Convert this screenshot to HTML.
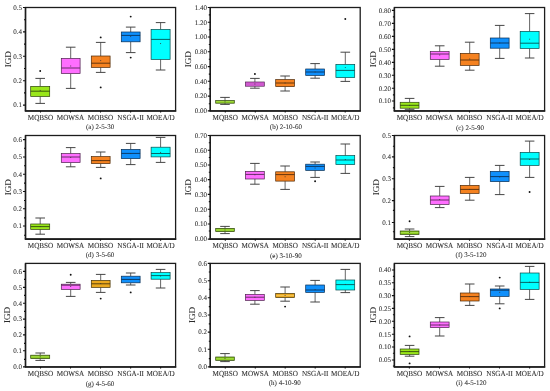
<!DOCTYPE html>
<html><head><meta charset="utf-8"><title>IGD boxplots</title>
<style>html,body{margin:0;padding:0;background:#fff}svg{display:block}</style></head>
<body>
<svg width="550" height="391" viewBox="0 0 550 391" font-family="'Liberation Serif', serif" fill="#2b2b2b">
<style>text{stroke:#2b2b2b;stroke-width:0.06px;text-rendering:geometricPrecision}</style>
<rect x="0" y="0" width="550" height="391" fill="#fff"/>
<g stroke="#484848" stroke-width="0.85" fill="none">
<path d="M40.2 78.4V86.4M40.2 96.4V103.4" stroke="#333" stroke-width="0.75"/>
<path d="M35.4 78.4H45.0M35.4 103.4H45.0" stroke="#3c3c3c" stroke-width="0.95"/>
<rect x="30.7" y="86.4" width="19.0" height="10.0" fill="#99e61a" stroke="#2c420a" stroke-width="0.7"/>
<path d="M30.7 91.2H49.7" stroke="#2c420a" stroke-width="0.85"/>
</g>
<rect x="39.75" y="89.95" width="0.9" height="0.9" fill="#383838"/>
<circle cx="40.2" cy="71.0" r="0.95" fill="#111"/>
<g stroke="#484848" stroke-width="0.85" fill="none">
<path d="M70.7 47.2V58.4M70.7 73.6V88.4" stroke="#333" stroke-width="0.75"/>
<path d="M65.9 47.2H75.5M65.9 88.4H75.5" stroke="#3c3c3c" stroke-width="0.95"/>
<rect x="61.3" y="58.4" width="18.8" height="15.2" fill="#ff6eff" stroke="#4c224c" stroke-width="0.7"/>
<path d="M61.3 68.0H80.1" stroke="#4c224c" stroke-width="0.85"/>
</g>
<rect x="70.25" y="65.55" width="0.9" height="0.9" fill="#383838"/>
<g stroke="#484848" stroke-width="0.85" fill="none">
<path d="M100.7 42.4V56.0M100.7 67.4V72.4" stroke="#333" stroke-width="0.75"/>
<path d="M95.9 42.4H105.5M95.9 72.4H105.5" stroke="#3c3c3c" stroke-width="0.95"/>
<rect x="91.3" y="56.0" width="18.8" height="11.4" fill="#f58220" stroke="#4c2808" stroke-width="0.7"/>
<path d="M91.3 63.2H110.1" stroke="#4c2808" stroke-width="0.85"/>
</g>
<rect x="100.25" y="60.15" width="0.9" height="0.9" fill="#383838"/>
<circle cx="100.7" cy="37.4" r="0.95" fill="#111"/>
<circle cx="100.7" cy="87.4" r="0.95" fill="#111"/>
<g stroke="#484848" stroke-width="0.85" fill="none">
<path d="M130.7 27.1V32.0M130.7 41.8V52.6" stroke="#333" stroke-width="0.75"/>
<path d="M125.9 27.1H135.5M125.9 52.6H135.5" stroke="#3c3c3c" stroke-width="0.95"/>
<rect x="121.3" y="32.0" width="18.8" height="9.8" fill="#1090fc" stroke="#082c50" stroke-width="0.7"/>
<path d="M121.3 35.4H140.1" stroke="#082c50" stroke-width="0.85"/>
</g>
<rect x="130.25" y="36.15" width="0.9" height="0.9" fill="#383838"/>
<circle cx="130.7" cy="16.6" r="0.95" fill="#111"/>
<circle cx="130.7" cy="57.6" r="0.95" fill="#111"/>
<g stroke="#484848" stroke-width="0.85" fill="none">
<path d="M160.6 22.6V29.4M160.6 59.4V70.0" stroke="#333" stroke-width="0.75"/>
<path d="M155.8 22.6H165.4M155.8 70.0H165.4" stroke="#3c3c3c" stroke-width="0.95"/>
<rect x="151.1" y="29.4" width="19.0" height="30.0" fill="#00ffff" stroke="#064a4a" stroke-width="0.7"/>
<path d="M151.1 39.4H170.1" stroke="#064a4a" stroke-width="0.85"/>
</g>
<rect x="160.15" y="43.15" width="0.9" height="0.9" fill="#383838"/>
<rect x="25.5" y="7.5" width="150.1" height="103.4" fill="none" stroke="#1c1c1c" stroke-width="1.3"/>
<path d="M25.5 7.5V110.9" stroke="#1c1c1c" stroke-width="1.45" fill="none"/>
<path d="M24.8 111.0H176.2" stroke="#1c1c1c" stroke-width="1.7" fill="none"/>
<path d="M23.0 7.5H25.5M23.0 31.9H25.5M23.0 56.3H25.5M23.0 80.7H25.5M23.0 105.1H25.5M24.0 19.7H25.5M24.0 44.1H25.5M24.0 68.5H25.5M24.0 92.9H25.5M40.5 110.9V112.5M70.5 110.9V112.5M100.5 110.9V112.5M130.6 110.9V112.5M160.6 110.9V112.5" stroke="#111" stroke-width="1.1" fill="none"/>
<g font-size="7.0" text-anchor="end">
<text transform="translate(22.1 9.8)">0.5</text>
<text transform="translate(22.1 34.2)">0.4</text>
<text transform="translate(22.1 58.6)">0.3</text>
<text transform="translate(22.1 83.0)">0.2</text>
<text transform="translate(22.1 107.4)">0.1</text>
</g>
<g font-size="7.15" text-anchor="middle">
<text transform="translate(40.5 120.1) scale(1 1.08)">MQBSO</text>
<text transform="translate(70.5 120.1) scale(1 1.08)">MOWSA</text>
<text transform="translate(100.5 120.1) scale(1 1.08)">MOBSO</text>
<text transform="translate(130.6 120.1) scale(1 1.08)">NSGA-II</text>
<text transform="translate(160.6 120.1) scale(1 1.08)">MOEA/D</text>
<text font-size="7" transform="translate(100.1 129.1)">(a) 2-5-30</text>
</g>
<text font-size="9" text-anchor="middle" transform="translate(10.7 59.2) rotate(-90)">IGD</text>
<g stroke="#484848" stroke-width="0.85" fill="none">
<path d="M225.0 97.4V100.6M225.0 103.2V104.4" stroke="#333" stroke-width="0.75"/>
<path d="M220.2 97.4H229.8M220.2 104.4H229.8" stroke="#3c3c3c" stroke-width="0.95"/>
<rect x="215.7" y="100.6" width="18.6" height="2.6" fill="#85c817" stroke="#2c420a" stroke-width="0.7"/>
<path d="M216.2 101.8H233.8" stroke="#c8f27a" stroke-width="0.55"/>
</g>
<rect x="224.55" y="101.35" width="0.9" height="0.9" fill="#383838"/>
<g stroke="#484848" stroke-width="0.85" fill="none">
<path d="M254.9 78.4V82.0M254.9 86.2V88.2" stroke="#333" stroke-width="0.75"/>
<path d="M250.1 78.4H259.7M250.1 88.2H259.7" stroke="#3c3c3c" stroke-width="0.95"/>
<rect x="245.5" y="82.0" width="18.8" height="4.2" fill="#df60df" stroke="#4c224c" stroke-width="0.7"/>
<path d="M245.5 84.0H264.3" stroke="#9d449d" stroke-width="0.5"/>
</g>
<rect x="254.45" y="83.55" width="0.9" height="0.9" fill="#383838"/>
<circle cx="254.9" cy="74.0" r="0.95" fill="#111"/>
<g stroke="#484848" stroke-width="0.85" fill="none">
<path d="M285.1 76.0V79.6M285.1 86.6V91.0" stroke="#333" stroke-width="0.75"/>
<path d="M280.3 76.0H289.9M280.3 91.0H289.9" stroke="#3c3c3c" stroke-width="0.95"/>
<rect x="275.7" y="79.6" width="18.8" height="7.0" fill="#f58220" stroke="#4c2808" stroke-width="0.7"/>
<path d="M275.7 83.0H294.5" stroke="#4c2808" stroke-width="0.85"/>
</g>
<rect x="284.65" y="82.55" width="0.9" height="0.9" fill="#383838"/>
<g stroke="#484848" stroke-width="0.85" fill="none">
<path d="M315.1 63.6V69.0M315.1 75.4V78.2" stroke="#333" stroke-width="0.75"/>
<path d="M310.3 63.6H319.9M310.3 78.2H319.9" stroke="#3c3c3c" stroke-width="0.95"/>
<rect x="305.7" y="69.0" width="18.8" height="6.4" fill="#1090fc" stroke="#082c50" stroke-width="0.7"/>
<path d="M305.7 72.0H324.5" stroke="#082c50" stroke-width="0.85"/>
</g>
<rect x="314.65" y="71.55" width="0.9" height="0.9" fill="#383838"/>
<g stroke="#484848" stroke-width="0.85" fill="none">
<path d="M345.3 52.2V64.4M345.3 77.6V81.4" stroke="#333" stroke-width="0.75"/>
<path d="M340.5 52.2H350.1M340.5 81.4H350.1" stroke="#3c3c3c" stroke-width="0.95"/>
<rect x="335.9" y="64.4" width="18.8" height="13.2" fill="#00ffff" stroke="#064a4a" stroke-width="0.7"/>
<path d="M335.9 70.4H354.7" stroke="#064a4a" stroke-width="0.85"/>
</g>
<rect x="344.85" y="67.15" width="0.9" height="0.9" fill="#383838"/>
<circle cx="345.3" cy="19.0" r="0.95" fill="#111"/>
<rect x="210.3" y="7.5" width="149.9" height="103.4" fill="none" stroke="#1c1c1c" stroke-width="1.3"/>
<path d="M210.3 7.5V110.9" stroke="#1c1c1c" stroke-width="1.45" fill="none"/>
<path d="M209.6 111.0H360.8" stroke="#1c1c1c" stroke-width="1.7" fill="none"/>
<path d="M207.8 7.5H210.3M207.8 22.3H210.3M207.8 37.0H210.3M207.8 51.8H210.3M207.8 66.6H210.3M207.8 81.3H210.3M207.8 96.1H210.3M207.8 110.9H210.3M208.8 14.9H210.3M208.8 29.7H210.3M208.8 44.5H210.3M208.8 59.3H210.3M208.8 74.1H210.3M208.8 88.9H210.3M208.8 103.7H210.3M225.3 110.9V112.5M255.3 110.9V112.5M285.2 110.9V112.5M315.2 110.9V112.5M345.2 110.9V112.5" stroke="#111" stroke-width="1.1" fill="none"/>
<g font-size="7.0" text-anchor="end">
<text transform="translate(206.9 9.8)">1.40</text>
<text transform="translate(206.9 24.6)">1.20</text>
<text transform="translate(206.9 39.3)">1.00</text>
<text transform="translate(206.9 54.1)">0.80</text>
<text transform="translate(206.9 68.9)">0.60</text>
<text transform="translate(206.9 83.6)">0.40</text>
<text transform="translate(206.9 98.4)">0.20</text>
<text transform="translate(206.9 113.2)">0.00</text>
</g>
<g font-size="7.15" text-anchor="middle">
<text transform="translate(225.3 120.1) scale(1 1.08)">MQBSO</text>
<text transform="translate(255.3 120.1) scale(1 1.08)">MOWSA</text>
<text transform="translate(285.2 120.1) scale(1 1.08)">MOBSO</text>
<text transform="translate(315.2 120.1) scale(1 1.08)">NSGA-II</text>
<text transform="translate(345.2 120.1) scale(1 1.08)">MOEA/D</text>
<text font-size="7" transform="translate(285.9 129.1)">(b) 2-10-60</text>
</g>
<text font-size="9" text-anchor="middle" transform="translate(191.1 59.2) rotate(-90)">IGD</text>
<g stroke="#484848" stroke-width="0.85" fill="none">
<path d="M409.6 98.4V102.3M409.6 108.2V109.3" stroke="#333" stroke-width="0.75"/>
<path d="M404.8 98.4H414.4M404.8 109.3H414.4" stroke="#3c3c3c" stroke-width="0.95"/>
<rect x="400.2" y="102.3" width="18.8" height="5.9" fill="#99e61a" stroke="#2c420a" stroke-width="0.7"/>
<path d="M400.2 105.3H419.0" stroke="#2c420a" stroke-width="0.85"/>
</g>
<rect x="409.15" y="104.85" width="0.9" height="0.9" fill="#383838"/>
<g stroke="#484848" stroke-width="0.85" fill="none">
<path d="M439.7 45.8V51.6M439.7 59.4V66.2" stroke="#333" stroke-width="0.75"/>
<path d="M434.9 45.8H444.5M434.9 66.2H444.5" stroke="#3c3c3c" stroke-width="0.95"/>
<rect x="430.3" y="51.6" width="18.8" height="7.8" fill="#ff6eff" stroke="#4c224c" stroke-width="0.7"/>
<path d="M430.3 54.0H449.1" stroke="#4c224c" stroke-width="0.85"/>
</g>
<rect x="439.25" y="54.55" width="0.9" height="0.9" fill="#383838"/>
<g stroke="#484848" stroke-width="0.85" fill="none">
<path d="M469.7 42.2V53.4M469.7 65.4V70.2" stroke="#333" stroke-width="0.75"/>
<path d="M464.9 42.2H474.5M464.9 70.2H474.5" stroke="#3c3c3c" stroke-width="0.95"/>
<rect x="460.3" y="53.4" width="18.8" height="12.0" fill="#f58220" stroke="#4c2808" stroke-width="0.7"/>
<path d="M460.3 60.0H479.1" stroke="#4c2808" stroke-width="0.85"/>
</g>
<rect x="469.25" y="58.55" width="0.9" height="0.9" fill="#383838"/>
<g stroke="#484848" stroke-width="0.85" fill="none">
<path d="M499.7 25.4V38.0M499.7 48.2V58.4" stroke="#333" stroke-width="0.75"/>
<path d="M494.9 25.4H504.5M494.9 58.4H504.5" stroke="#3c3c3c" stroke-width="0.95"/>
<rect x="490.3" y="38.0" width="18.8" height="10.2" fill="#1090fc" stroke="#082c50" stroke-width="0.7"/>
<path d="M490.3 43.0H509.1" stroke="#082c50" stroke-width="0.85"/>
</g>
<rect x="499.25" y="42.55" width="0.9" height="0.9" fill="#383838"/>
<g stroke="#484848" stroke-width="0.85" fill="none">
<path d="M529.6 13.6V31.4M529.6 48.4V58.0" stroke="#333" stroke-width="0.75"/>
<path d="M524.9 13.6H534.4M524.9 58.0H534.4" stroke="#3c3c3c" stroke-width="0.95"/>
<rect x="520.2" y="31.4" width="18.9" height="17.0" fill="#00ffff" stroke="#064a4a" stroke-width="0.7"/>
<path d="M520.2 43.2H539.1" stroke="#064a4a" stroke-width="0.85"/>
</g>
<rect x="529.20" y="38.75" width="0.9" height="0.9" fill="#383838"/>
<rect x="394.4" y="7.5" width="150.2" height="103.4" fill="none" stroke="#1c1c1c" stroke-width="1.3"/>
<path d="M394.4 7.5V110.9" stroke="#1c1c1c" stroke-width="1.45" fill="none"/>
<path d="M393.7 111.0H545.2" stroke="#1c1c1c" stroke-width="1.7" fill="none"/>
<path d="M391.9 10.4H394.4M391.9 23.4H394.4M391.9 36.4H394.4M391.9 49.4H394.4M391.9 62.4H394.4M391.9 75.2H394.4M391.9 88.2H394.4M391.9 101.0H394.4M392.9 16.9H394.4M392.9 29.9H394.4M392.9 42.9H394.4M392.9 55.9H394.4M392.9 68.9H394.4M392.9 81.9H394.4M392.9 94.9H394.4M392.9 107.9H394.4M409.4 110.9V112.5M439.5 110.9V112.5M469.5 110.9V112.5M499.5 110.9V112.5M529.6 110.9V112.5" stroke="#111" stroke-width="1.1" fill="none"/>
<g font-size="7.0" text-anchor="end">
<text transform="translate(391.0 12.7)">0.80</text>
<text transform="translate(391.0 25.7)">0.70</text>
<text transform="translate(391.0 38.7)">0.60</text>
<text transform="translate(391.0 51.7)">0.50</text>
<text transform="translate(391.0 64.7)">0.40</text>
<text transform="translate(391.0 77.5)">0.30</text>
<text transform="translate(391.0 90.5)">0.20</text>
<text transform="translate(391.0 103.3)">0.10</text>
</g>
<g font-size="7.15" text-anchor="middle">
<text transform="translate(409.4 120.1) scale(1 1.08)">MQBSO</text>
<text transform="translate(439.5 120.1) scale(1 1.08)">MOWSA</text>
<text transform="translate(469.5 120.1) scale(1 1.08)">MOBSO</text>
<text transform="translate(499.5 120.1) scale(1 1.08)">NSGA-II</text>
<text transform="translate(529.6 120.1) scale(1 1.08)">MOEA/D</text>
<text font-size="7" transform="translate(470.0 130.1)">(c) 2-5-90</text>
</g>
<text font-size="9" text-anchor="middle" transform="translate(375.9 59.2) rotate(-90)">IGD</text>
<g stroke="#484848" stroke-width="0.85" fill="none">
<path d="M40.2 218.0V224.0M40.2 229.4V234.2" stroke="#333" stroke-width="0.75"/>
<path d="M35.4 218.0H45.0M35.4 234.2H45.0" stroke="#3c3c3c" stroke-width="0.95"/>
<rect x="30.7" y="224.0" width="19.0" height="5.4" fill="#99e61a" stroke="#2c420a" stroke-width="0.7"/>
<path d="M30.7 226.6H49.7" stroke="#2c420a" stroke-width="0.85"/>
</g>
<rect x="39.75" y="226.15" width="0.9" height="0.9" fill="#383838"/>
<g stroke="#484848" stroke-width="0.85" fill="none">
<path d="M70.7 147.6V153.6M70.7 162.6V166.8" stroke="#333" stroke-width="0.75"/>
<path d="M65.9 147.6H75.5M65.9 166.8H75.5" stroke="#3c3c3c" stroke-width="0.95"/>
<rect x="61.3" y="153.6" width="18.8" height="9.0" fill="#ff6eff" stroke="#4c224c" stroke-width="0.7"/>
<path d="M61.3 157.0H80.1" stroke="#4c224c" stroke-width="0.85"/>
</g>
<rect x="70.25" y="156.95" width="0.9" height="0.9" fill="#383838"/>
<g stroke="#484848" stroke-width="0.85" fill="none">
<path d="M100.7 152.0V156.6M100.7 163.6V167.4" stroke="#333" stroke-width="0.75"/>
<path d="M95.9 152.0H105.5M95.9 167.4H105.5" stroke="#3c3c3c" stroke-width="0.95"/>
<rect x="91.3" y="156.6" width="18.8" height="7.0" fill="#f58220" stroke="#4c2808" stroke-width="0.7"/>
<path d="M91.3 160.6H110.1" stroke="#4c2808" stroke-width="0.85"/>
</g>
<rect x="100.25" y="159.95" width="0.9" height="0.9" fill="#383838"/>
<circle cx="100.7" cy="178.4" r="0.95" fill="#111"/>
<g stroke="#484848" stroke-width="0.85" fill="none">
<path d="M130.7 143.4V149.4M130.7 158.6V164.6" stroke="#333" stroke-width="0.75"/>
<path d="M125.9 143.4H135.5M125.9 164.6H135.5" stroke="#3c3c3c" stroke-width="0.95"/>
<rect x="121.3" y="149.4" width="18.8" height="9.2" fill="#1090fc" stroke="#082c50" stroke-width="0.7"/>
<path d="M121.3 153.4H140.1" stroke="#082c50" stroke-width="0.85"/>
</g>
<rect x="130.25" y="153.15" width="0.9" height="0.9" fill="#383838"/>
<g stroke="#484848" stroke-width="0.85" fill="none">
<path d="M160.6 137.4V147.2M160.6 156.9V162.4" stroke="#333" stroke-width="0.75"/>
<path d="M155.8 137.4H165.4M155.8 162.4H165.4" stroke="#3c3c3c" stroke-width="0.95"/>
<rect x="151.1" y="147.2" width="19.0" height="9.7" fill="#00ffff" stroke="#064a4a" stroke-width="0.7"/>
<path d="M151.1 153.5H170.1" stroke="#064a4a" stroke-width="0.85"/>
</g>
<rect x="160.15" y="151.95" width="0.9" height="0.9" fill="#383838"/>
<rect x="25.5" y="135.5" width="150.1" height="103.6" fill="none" stroke="#1c1c1c" stroke-width="1.3"/>
<path d="M25.5 135.5V239.1" stroke="#1c1c1c" stroke-width="1.45" fill="none"/>
<path d="M24.8 239.2H176.2" stroke="#1c1c1c" stroke-width="1.7" fill="none"/>
<path d="M23.0 139.6H25.5M23.0 157.0H25.5M23.0 174.2H25.5M23.0 191.5H25.5M23.0 208.8H25.5M23.0 226.0H25.5M24.0 148.3H25.5M24.0 165.7H25.5M24.0 183.1H25.5M24.0 200.5H25.5M24.0 217.9H25.5M24.0 235.3H25.5M40.5 239.1V240.7M70.5 239.1V240.7M100.5 239.1V240.7M130.6 239.1V240.7M160.6 239.1V240.7" stroke="#111" stroke-width="1.1" fill="none"/>
<g font-size="7.0" text-anchor="end">
<text transform="translate(22.1 141.9)">0.6</text>
<text transform="translate(22.1 159.3)">0.5</text>
<text transform="translate(22.1 176.5)">0.4</text>
<text transform="translate(22.1 193.8)">0.3</text>
<text transform="translate(22.1 211.1)">0.2</text>
<text transform="translate(22.1 228.3)">0.1</text>
</g>
<g font-size="7.15" text-anchor="middle">
<text transform="translate(40.5 248.3) scale(1 1.08)">MQBSO</text>
<text transform="translate(70.5 248.3) scale(1 1.08)">MOWSA</text>
<text transform="translate(100.5 248.3) scale(1 1.08)">MOBSO</text>
<text transform="translate(130.6 248.3) scale(1 1.08)">NSGA-II</text>
<text transform="translate(160.6 248.3) scale(1 1.08)">MOEA/D</text>
<text font-size="7" transform="translate(100.0 257.3)">(d) 3-5-60</text>
</g>
<text font-size="9" text-anchor="middle" transform="translate(10.7 187.3) rotate(-90)">IGD</text>
<g stroke="#484848" stroke-width="0.85" fill="none">
<path d="M225.0 226.4V228.4M225.0 231.6V233.6" stroke="#333" stroke-width="0.75"/>
<path d="M220.2 226.4H229.8M220.2 233.6H229.8" stroke="#3c3c3c" stroke-width="0.95"/>
<rect x="215.7" y="228.4" width="18.6" height="3.2" fill="#85c817" stroke="#2c420a" stroke-width="0.7"/>
<path d="M216.2 230.0H233.8" stroke="#c8f27a" stroke-width="0.55"/>
</g>
<rect x="224.55" y="229.55" width="0.9" height="0.9" fill="#383838"/>
<g stroke="#484848" stroke-width="0.85" fill="none">
<path d="M254.9 163.4V171.4M254.9 179.0V184.2" stroke="#333" stroke-width="0.75"/>
<path d="M250.1 163.4H259.7M250.1 184.2H259.7" stroke="#3c3c3c" stroke-width="0.95"/>
<rect x="245.5" y="171.4" width="18.8" height="7.6" fill="#ff6eff" stroke="#4c224c" stroke-width="0.7"/>
<path d="M245.5 174.4H264.3" stroke="#4c224c" stroke-width="0.85"/>
</g>
<rect x="254.45" y="174.35" width="0.9" height="0.9" fill="#383838"/>
<g stroke="#484848" stroke-width="0.85" fill="none">
<path d="M285.1 166.0V171.8M285.1 181.1V189.4" stroke="#333" stroke-width="0.75"/>
<path d="M280.3 166.0H289.9M280.3 189.4H289.9" stroke="#3c3c3c" stroke-width="0.95"/>
<rect x="275.7" y="171.8" width="18.8" height="9.3" fill="#f58220" stroke="#4c2808" stroke-width="0.7"/>
<path d="M275.7 174.6H294.5" stroke="#4c2808" stroke-width="0.85"/>
</g>
<rect x="284.65" y="176.35" width="0.9" height="0.9" fill="#383838"/>
<g stroke="#484848" stroke-width="0.85" fill="none">
<path d="M315.1 162.0V164.2M315.1 170.4V177.4" stroke="#333" stroke-width="0.75"/>
<path d="M310.3 162.0H319.9M310.3 177.4H319.9" stroke="#3c3c3c" stroke-width="0.95"/>
<rect x="305.7" y="164.2" width="18.8" height="6.2" fill="#1090fc" stroke="#082c50" stroke-width="0.7"/>
<path d="M305.7 166.4H324.5" stroke="#082c50" stroke-width="0.85"/>
</g>
<rect x="314.65" y="167.55" width="0.9" height="0.9" fill="#383838"/>
<circle cx="315.1" cy="181.2" r="0.95" fill="#111"/>
<g stroke="#484848" stroke-width="0.85" fill="none">
<path d="M345.3 144.0V155.6M345.3 164.6V173.4" stroke="#333" stroke-width="0.75"/>
<path d="M340.5 144.0H350.1M340.5 173.4H350.1" stroke="#3c3c3c" stroke-width="0.95"/>
<rect x="335.9" y="155.6" width="18.8" height="9.0" fill="#00ffff" stroke="#064a4a" stroke-width="0.7"/>
<path d="M335.9 160.0H354.7" stroke="#064a4a" stroke-width="0.85"/>
</g>
<rect x="344.85" y="159.15" width="0.9" height="0.9" fill="#383838"/>
<rect x="210.3" y="135.5" width="149.9" height="103.6" fill="none" stroke="#1c1c1c" stroke-width="1.3"/>
<path d="M210.3 135.5V239.1" stroke="#1c1c1c" stroke-width="1.45" fill="none"/>
<path d="M209.6 239.2H360.8" stroke="#1c1c1c" stroke-width="1.7" fill="none"/>
<path d="M207.8 135.5H210.3M207.8 150.2H210.3M207.8 165.0H210.3M207.8 179.6H210.3M207.8 194.4H210.3M207.8 209.2H210.3M207.8 224.0H210.3M207.8 239.1H210.3M208.8 142.8H210.3M208.8 157.5H210.3M208.8 172.2H210.3M208.8 186.9H210.3M208.8 201.6H210.3M208.8 216.3H210.3M208.8 231.0H210.3M225.3 239.1V240.7M255.3 239.1V240.7M285.2 239.1V240.7M315.2 239.1V240.7M345.2 239.1V240.7" stroke="#111" stroke-width="1.1" fill="none"/>
<g font-size="7.0" text-anchor="end">
<text transform="translate(206.9 137.8)">0.70</text>
<text transform="translate(206.9 152.5)">0.60</text>
<text transform="translate(206.9 167.3)">0.50</text>
<text transform="translate(206.9 181.9)">0.40</text>
<text transform="translate(206.9 196.7)">0.30</text>
<text transform="translate(206.9 211.5)">0.20</text>
<text transform="translate(206.9 226.3)">0.10</text>
<text transform="translate(206.9 241.4)">0.00</text>
</g>
<g font-size="7.15" text-anchor="middle">
<text transform="translate(225.3 248.3) scale(1 1.08)">MQBSO</text>
<text transform="translate(255.3 248.3) scale(1 1.08)">MOWSA</text>
<text transform="translate(285.2 248.3) scale(1 1.08)">MOBSO</text>
<text transform="translate(315.2 248.3) scale(1 1.08)">NSGA-II</text>
<text transform="translate(345.2 248.3) scale(1 1.08)">MOEA/D</text>
<text font-size="7" transform="translate(285.8 257.6)">(e) 3-10-90</text>
</g>
<text font-size="9" text-anchor="middle" transform="translate(190.9 187.3) rotate(-90)">IGD</text>
<g stroke="#484848" stroke-width="0.85" fill="none">
<path d="M409.6 229.0V231.0M409.6 234.4V236.6" stroke="#333" stroke-width="0.75"/>
<path d="M404.8 229.0H414.4M404.8 236.6H414.4" stroke="#3c3c3c" stroke-width="0.95"/>
<rect x="400.2" y="231.0" width="18.8" height="3.4" fill="#85c817" stroke="#2c420a" stroke-width="0.7"/>
<path d="M400.7 232.6H418.5" stroke="#c8f27a" stroke-width="0.55"/>
</g>
<rect x="409.15" y="231.95" width="0.9" height="0.9" fill="#383838"/>
<circle cx="409.6" cy="221.2" r="0.95" fill="#111"/>
<g stroke="#484848" stroke-width="0.85" fill="none">
<path d="M439.7 186.4V196.0M439.7 204.4V207.6" stroke="#333" stroke-width="0.75"/>
<path d="M434.9 186.4H444.5M434.9 207.6H444.5" stroke="#3c3c3c" stroke-width="0.95"/>
<rect x="430.3" y="196.0" width="18.8" height="8.4" fill="#ff6eff" stroke="#4c224c" stroke-width="0.7"/>
<path d="M430.3 200.0H449.1" stroke="#4c224c" stroke-width="0.85"/>
</g>
<rect x="439.25" y="199.15" width="0.9" height="0.9" fill="#383838"/>
<g stroke="#484848" stroke-width="0.85" fill="none">
<path d="M469.7 177.4V185.4M469.7 193.4V200.2" stroke="#333" stroke-width="0.75"/>
<path d="M464.9 177.4H474.5M464.9 200.2H474.5" stroke="#3c3c3c" stroke-width="0.95"/>
<rect x="460.3" y="185.4" width="18.8" height="8.0" fill="#f58220" stroke="#4c2808" stroke-width="0.7"/>
<path d="M460.3 189.4H479.1" stroke="#4c2808" stroke-width="0.85"/>
</g>
<rect x="469.25" y="188.95" width="0.9" height="0.9" fill="#383838"/>
<g stroke="#484848" stroke-width="0.85" fill="none">
<path d="M499.7 165.4V171.4M499.7 181.6V194.6" stroke="#333" stroke-width="0.75"/>
<path d="M494.9 165.4H504.5M494.9 194.6H504.5" stroke="#3c3c3c" stroke-width="0.95"/>
<rect x="490.3" y="171.4" width="18.8" height="10.2" fill="#1090fc" stroke="#082c50" stroke-width="0.7"/>
<path d="M490.3 176.6H509.1" stroke="#082c50" stroke-width="0.85"/>
</g>
<rect x="499.25" y="176.55" width="0.9" height="0.9" fill="#383838"/>
<g stroke="#484848" stroke-width="0.85" fill="none">
<path d="M529.6 141.1V152.4M529.6 165.4V177.4" stroke="#333" stroke-width="0.75"/>
<path d="M524.9 141.1H534.4M524.9 177.4H534.4" stroke="#3c3c3c" stroke-width="0.95"/>
<rect x="520.2" y="152.4" width="18.9" height="13.0" fill="#00ffff" stroke="#064a4a" stroke-width="0.7"/>
<path d="M520.2 159.0H539.1" stroke="#064a4a" stroke-width="0.85"/>
</g>
<rect x="529.20" y="158.95" width="0.9" height="0.9" fill="#383838"/>
<circle cx="529.6" cy="192.0" r="0.95" fill="#111"/>
<rect x="394.4" y="135.5" width="150.2" height="103.6" fill="none" stroke="#1c1c1c" stroke-width="1.3"/>
<path d="M394.4 135.5V239.1" stroke="#1c1c1c" stroke-width="1.45" fill="none"/>
<path d="M393.7 239.2H545.2" stroke="#1c1c1c" stroke-width="1.7" fill="none"/>
<path d="M391.9 135.5H394.4M391.9 156.9H394.4M391.9 178.8H394.4M391.9 200.6H394.4M391.9 222.5H394.4M392.9 146.2H394.4M392.9 167.6H394.4M392.9 189.0H394.4M392.9 210.4H394.4M392.9 231.8H394.4M409.4 239.1V240.7M439.5 239.1V240.7M469.5 239.1V240.7M499.5 239.1V240.7M529.6 239.1V240.7" stroke="#111" stroke-width="1.1" fill="none"/>
<g font-size="7.0" text-anchor="end">
<text transform="translate(391.0 137.8)">0.5</text>
<text transform="translate(391.0 159.2)">0.4</text>
<text transform="translate(391.0 181.1)">0.3</text>
<text transform="translate(391.0 202.9)">0.2</text>
<text transform="translate(391.0 224.8)">0.1</text>
</g>
<g font-size="7.15" text-anchor="middle">
<text transform="translate(409.4 248.3) scale(1 1.08)">MQBSO</text>
<text transform="translate(439.5 248.3) scale(1 1.08)">MOWSA</text>
<text transform="translate(469.5 248.3) scale(1 1.08)">MOBSO</text>
<text transform="translate(499.5 248.3) scale(1 1.08)">NSGA-II</text>
<text transform="translate(529.6 248.3) scale(1 1.08)">MOEA/D</text>
<text font-size="7" transform="translate(471.0 257.3)">(f) 3-5-120</text>
</g>
<text font-size="9" text-anchor="middle" transform="translate(379.1 187.3) rotate(-90)">IGD</text>
<g stroke="#484848" stroke-width="0.85" fill="none">
<path d="M40.2 353.0V355.2M40.2 358.6V360.4" stroke="#333" stroke-width="0.75"/>
<path d="M35.4 353.0H45.0M35.4 360.4H45.0" stroke="#3c3c3c" stroke-width="0.95"/>
<rect x="30.7" y="355.2" width="19.0" height="3.4" fill="#85c817" stroke="#2c420a" stroke-width="0.7"/>
<path d="M31.2 356.8H49.2" stroke="#c8f27a" stroke-width="0.55"/>
</g>
<rect x="39.75" y="356.35" width="0.9" height="0.9" fill="#383838"/>
<g stroke="#484848" stroke-width="0.85" fill="none">
<path d="M70.7 282.4V284.2M70.7 289.4V296.4" stroke="#333" stroke-width="0.75"/>
<path d="M65.9 282.4H75.5M65.9 296.4H75.5" stroke="#3c3c3c" stroke-width="0.95"/>
<rect x="61.3" y="284.2" width="18.8" height="5.2" fill="#ff6eff" stroke="#4c224c" stroke-width="0.7"/>
<path d="M61.3 285.2H80.1" stroke="#4c224c" stroke-width="0.85"/>
</g>
<rect x="70.25" y="285.95" width="0.9" height="0.9" fill="#383838"/>
<circle cx="70.7" cy="274.8" r="0.95" fill="#111"/>
<g stroke="#484848" stroke-width="0.85" fill="none">
<path d="M100.7 274.4V280.4M100.7 287.4V292.4" stroke="#333" stroke-width="0.75"/>
<path d="M95.9 274.4H105.5M95.9 292.4H105.5" stroke="#3c3c3c" stroke-width="0.95"/>
<rect x="91.3" y="280.4" width="18.8" height="7.0" fill="#eaa81e" stroke="#443208" stroke-width="0.7"/>
<path d="M91.3 283.8H110.1" stroke="#443208" stroke-width="0.85"/>
</g>
<rect x="100.25" y="283.15" width="0.9" height="0.9" fill="#383838"/>
<circle cx="100.7" cy="298.6" r="0.95" fill="#111"/>
<g stroke="#484848" stroke-width="0.85" fill="none">
<path d="M130.7 273.0V276.2M130.7 282.8V285.0" stroke="#333" stroke-width="0.75"/>
<path d="M125.9 273.0H135.5M125.9 285.0H135.5" stroke="#3c3c3c" stroke-width="0.95"/>
<rect x="121.3" y="276.2" width="18.8" height="6.6" fill="#1090fc" stroke="#082c50" stroke-width="0.7"/>
<path d="M121.3 279.4H140.1" stroke="#082c50" stroke-width="0.85"/>
</g>
<rect x="130.25" y="279.15" width="0.9" height="0.9" fill="#383838"/>
<circle cx="130.7" cy="292.4" r="0.95" fill="#111"/>
<g stroke="#484848" stroke-width="0.85" fill="none">
<path d="M160.6 269.4V272.6M160.6 279.2V288.0" stroke="#333" stroke-width="0.75"/>
<path d="M155.8 269.4H165.4M155.8 288.0H165.4" stroke="#3c3c3c" stroke-width="0.95"/>
<rect x="151.1" y="272.6" width="19.0" height="6.6" fill="#00ffff" stroke="#064a4a" stroke-width="0.7"/>
<path d="M151.1 275.6H170.1" stroke="#064a4a" stroke-width="0.85"/>
</g>
<rect x="160.15" y="275.55" width="0.9" height="0.9" fill="#383838"/>
<rect x="25.5" y="263.4" width="150.1" height="103.5" fill="none" stroke="#1c1c1c" stroke-width="1.3"/>
<path d="M25.5 263.4V366.9" stroke="#1c1c1c" stroke-width="1.45" fill="none"/>
<path d="M24.8 367.0H176.2" stroke="#1c1c1c" stroke-width="1.7" fill="none"/>
<path d="M23.0 271.4H25.5M23.0 287.4H25.5M23.0 303.2H25.5M23.0 319.1H25.5M23.0 334.9H25.5M23.0 350.7H25.5M23.0 366.9H25.5M24.0 279.4H25.5M24.0 295.4H25.5M24.0 311.4H25.5M24.0 327.4H25.5M24.0 343.4H25.5M24.0 359.4H25.5M40.5 366.9V368.5M70.5 366.9V368.5M100.5 366.9V368.5M130.6 366.9V368.5M160.6 366.9V368.5" stroke="#111" stroke-width="1.1" fill="none"/>
<g font-size="7.0" text-anchor="end">
<text transform="translate(22.1 273.7)">0.6</text>
<text transform="translate(22.1 289.7)">0.5</text>
<text transform="translate(22.1 305.5)">0.4</text>
<text transform="translate(22.1 321.4)">0.3</text>
<text transform="translate(22.1 337.2)">0.2</text>
<text transform="translate(22.1 353.0)">0.1</text>
<text transform="translate(22.1 369.2)">0.0</text>
</g>
<g font-size="7.15" text-anchor="middle">
<text transform="translate(40.5 376.1) scale(1 1.08)">MQBSO</text>
<text transform="translate(70.5 376.1) scale(1 1.08)">MOWSA</text>
<text transform="translate(100.5 376.1) scale(1 1.08)">MOBSO</text>
<text transform="translate(130.6 376.1) scale(1 1.08)">NSGA-II</text>
<text transform="translate(160.6 376.1) scale(1 1.08)">MOEA/D</text>
<text font-size="7" transform="translate(100.0 386.0)">(g) 4-5-60</text>
</g>
<text font-size="9" text-anchor="middle" transform="translate(10.3 315.1) rotate(-90)">IGD</text>
<g stroke="#484848" stroke-width="0.85" fill="none">
<path d="M225.0 353.6V357.0M225.0 360.4V361.6" stroke="#333" stroke-width="0.75"/>
<path d="M220.2 353.6H229.8M220.2 361.6H229.8" stroke="#3c3c3c" stroke-width="0.95"/>
<rect x="215.7" y="357.0" width="18.6" height="3.4" fill="#85c817" stroke="#2c420a" stroke-width="0.7"/>
<path d="M216.2 358.8H233.8" stroke="#c8f27a" stroke-width="0.55"/>
</g>
<rect x="224.55" y="358.15" width="0.9" height="0.9" fill="#383838"/>
<g stroke="#484848" stroke-width="0.85" fill="none">
<path d="M254.9 290.6V294.4M254.9 300.4V304.2" stroke="#333" stroke-width="0.75"/>
<path d="M250.1 290.6H259.7M250.1 304.2H259.7" stroke="#3c3c3c" stroke-width="0.95"/>
<rect x="245.5" y="294.4" width="18.8" height="6.0" fill="#ff6eff" stroke="#4c224c" stroke-width="0.7"/>
<path d="M245.5 297.2H264.3" stroke="#4c224c" stroke-width="0.85"/>
</g>
<rect x="254.45" y="296.75" width="0.9" height="0.9" fill="#383838"/>
<g stroke="#484848" stroke-width="0.85" fill="none">
<path d="M285.1 287.0V293.4M285.1 297.6V301.2" stroke="#333" stroke-width="0.75"/>
<path d="M280.3 287.0H289.9M280.3 301.2H289.9" stroke="#3c3c3c" stroke-width="0.95"/>
<rect x="275.7" y="293.4" width="18.8" height="4.2" fill="#eaa81e" stroke="#443208" stroke-width="0.7"/>
<path d="M276.2 295.6H294.0" stroke="#ffe08a" stroke-width="0.55"/>
</g>
<rect x="284.65" y="294.95" width="0.9" height="0.9" fill="#383838"/>
<circle cx="285.1" cy="306.6" r="0.95" fill="#111"/>
<g stroke="#484848" stroke-width="0.85" fill="none">
<path d="M315.1 280.4V285.0M315.1 292.4V302.0" stroke="#333" stroke-width="0.75"/>
<path d="M310.3 280.4H319.9M310.3 302.0H319.9" stroke="#3c3c3c" stroke-width="0.95"/>
<rect x="305.7" y="285.0" width="18.8" height="7.4" fill="#1090fc" stroke="#082c50" stroke-width="0.7"/>
<path d="M305.7 290.0H324.5" stroke="#082c50" stroke-width="0.85"/>
</g>
<rect x="314.65" y="289.15" width="0.9" height="0.9" fill="#383838"/>
<g stroke="#484848" stroke-width="0.85" fill="none">
<path d="M345.3 269.4V280.0M345.3 290.0V292.6" stroke="#333" stroke-width="0.75"/>
<path d="M340.5 269.4H350.1M340.5 292.6H350.1" stroke="#3c3c3c" stroke-width="0.95"/>
<rect x="335.9" y="280.0" width="18.8" height="10.0" fill="#00ffff" stroke="#064a4a" stroke-width="0.7"/>
<path d="M335.9 284.6H354.7" stroke="#064a4a" stroke-width="0.85"/>
</g>
<rect x="344.85" y="283.95" width="0.9" height="0.9" fill="#383838"/>
<rect x="210.3" y="263.4" width="149.9" height="103.5" fill="none" stroke="#1c1c1c" stroke-width="1.3"/>
<path d="M210.3 263.4V366.9" stroke="#1c1c1c" stroke-width="1.45" fill="none"/>
<path d="M209.6 367.0H360.8" stroke="#1c1c1c" stroke-width="1.7" fill="none"/>
<path d="M207.8 263.4H210.3M207.8 280.7H210.3M207.8 297.8H210.3M207.8 315.0H210.3M207.8 332.1H210.3M207.8 349.3H210.3M207.8 366.9H210.3M208.8 272.0H210.3M208.8 289.3H210.3M208.8 306.6H210.3M208.8 323.9H210.3M208.8 341.2H210.3M208.8 358.6H210.3M225.3 366.9V368.5M255.3 366.9V368.5M285.2 366.9V368.5M315.2 366.9V368.5M345.2 366.9V368.5" stroke="#111" stroke-width="1.1" fill="none"/>
<g font-size="7.0" text-anchor="end">
<text transform="translate(206.9 265.7)">0.6</text>
<text transform="translate(206.9 283.0)">0.5</text>
<text transform="translate(206.9 300.1)">0.4</text>
<text transform="translate(206.9 317.3)">0.3</text>
<text transform="translate(206.9 334.4)">0.2</text>
<text transform="translate(206.9 351.6)">0.1</text>
<text transform="translate(206.9 369.2)">0.0</text>
</g>
<g font-size="7.15" text-anchor="middle">
<text transform="translate(225.3 376.1) scale(1 1.08)">MQBSO</text>
<text transform="translate(255.3 376.1) scale(1 1.08)">MOWSA</text>
<text transform="translate(285.2 376.1) scale(1 1.08)">MOBSO</text>
<text transform="translate(315.2 376.1) scale(1 1.08)">NSGA-II</text>
<text transform="translate(345.2 376.1) scale(1 1.08)">MOEA/D</text>
<text font-size="7" transform="translate(284.8 385.3)">(h) 4-10-90</text>
</g>
<text font-size="9" text-anchor="middle" transform="translate(195.1 315.1) rotate(-90)">IGD</text>
<g stroke="#484848" stroke-width="0.85" fill="none">
<path d="M409.6 345.4V349.0M409.6 354.4V356.2" stroke="#333" stroke-width="0.75"/>
<path d="M404.8 345.4H414.4M404.8 356.2H414.4" stroke="#3c3c3c" stroke-width="0.95"/>
<rect x="400.2" y="349.0" width="18.8" height="5.4" fill="#99e61a" stroke="#2c420a" stroke-width="0.7"/>
<path d="M400.2 351.6H419.0" stroke="#2c420a" stroke-width="0.85"/>
</g>
<rect x="409.15" y="350.95" width="0.9" height="0.9" fill="#383838"/>
<circle cx="409.6" cy="336.4" r="0.95" fill="#111"/>
<circle cx="409.6" cy="363.4" r="0.95" fill="#111"/>
<g stroke="#484848" stroke-width="0.85" fill="none">
<path d="M439.7 317.6V322.0M439.7 327.6V336.0" stroke="#333" stroke-width="0.75"/>
<path d="M434.9 317.6H444.5M434.9 336.0H444.5" stroke="#3c3c3c" stroke-width="0.95"/>
<rect x="430.3" y="322.0" width="18.8" height="5.6" fill="#ff6eff" stroke="#4c224c" stroke-width="0.7"/>
<path d="M430.3 325.0H449.1" stroke="#4c224c" stroke-width="0.85"/>
</g>
<rect x="439.25" y="324.55" width="0.9" height="0.9" fill="#383838"/>
<g stroke="#484848" stroke-width="0.85" fill="none">
<path d="M469.7 284.0V293.0M469.7 301.0V305.4" stroke="#333" stroke-width="0.75"/>
<path d="M464.9 284.0H474.5M464.9 305.4H474.5" stroke="#3c3c3c" stroke-width="0.95"/>
<rect x="460.3" y="293.0" width="18.8" height="8.0" fill="#f58220" stroke="#4c2808" stroke-width="0.7"/>
<path d="M460.3 296.6H479.1" stroke="#4c2808" stroke-width="0.85"/>
</g>
<rect x="469.25" y="296.15" width="0.9" height="0.9" fill="#383838"/>
<g stroke="#484848" stroke-width="0.85" fill="none">
<path d="M499.7 286.0V289.0M499.7 296.4V303.8" stroke="#333" stroke-width="0.75"/>
<path d="M494.9 286.0H504.5M494.9 303.8H504.5" stroke="#3c3c3c" stroke-width="0.95"/>
<rect x="490.3" y="289.0" width="18.8" height="7.4" fill="#1090fc" stroke="#082c50" stroke-width="0.7"/>
<path d="M490.3 290.2H509.1" stroke="#082c50" stroke-width="0.85"/>
</g>
<rect x="499.25" y="291.85" width="0.9" height="0.9" fill="#383838"/>
<circle cx="499.7" cy="277.6" r="0.95" fill="#111"/>
<circle cx="499.7" cy="308.4" r="0.95" fill="#111"/>
<g stroke="#484848" stroke-width="0.85" fill="none">
<path d="M529.6 266.4V273.0M529.6 289.4V299.4" stroke="#333" stroke-width="0.75"/>
<path d="M524.9 266.4H534.4M524.9 299.4H534.4" stroke="#3c3c3c" stroke-width="0.95"/>
<rect x="520.2" y="273.0" width="18.9" height="16.4" fill="#00ffff" stroke="#064a4a" stroke-width="0.7"/>
<path d="M520.2 282.4H539.1" stroke="#064a4a" stroke-width="0.85"/>
</g>
<rect x="529.20" y="281.75" width="0.9" height="0.9" fill="#383838"/>
<rect x="394.4" y="263.4" width="150.2" height="103.5" fill="none" stroke="#1c1c1c" stroke-width="1.3"/>
<path d="M394.4 263.4V366.9" stroke="#1c1c1c" stroke-width="1.45" fill="none"/>
<path d="M393.7 367.0H545.2" stroke="#1c1c1c" stroke-width="1.7" fill="none"/>
<path d="M391.9 270.0H394.4M391.9 282.8H394.4M391.9 295.6H394.4M391.9 308.4H394.4M391.9 321.2H394.4M391.9 334.2H394.4M391.9 347.0H394.4M391.9 360.0H394.4M392.9 276.4H394.4M392.9 289.2H394.4M392.9 302.0H394.4M392.9 314.8H394.4M392.9 327.6H394.4M392.9 340.4H394.4M392.9 353.2H394.4M392.9 366.0H394.4M409.4 366.9V368.5M439.5 366.9V368.5M469.5 366.9V368.5M499.5 366.9V368.5M529.6 366.9V368.5" stroke="#111" stroke-width="1.1" fill="none"/>
<g font-size="7.0" text-anchor="end">
<text transform="translate(391.0 272.3)">0.40</text>
<text transform="translate(391.0 285.1)">0.35</text>
<text transform="translate(391.0 297.9)">0.30</text>
<text transform="translate(391.0 310.7)">0.25</text>
<text transform="translate(391.0 323.5)">0.20</text>
<text transform="translate(391.0 336.5)">0.15</text>
<text transform="translate(391.0 349.3)">0.10</text>
<text transform="translate(391.0 362.3)">0.05</text>
</g>
<g font-size="7.15" text-anchor="middle">
<text transform="translate(409.4 376.1) scale(1 1.08)">MQBSO</text>
<text transform="translate(439.5 376.1) scale(1 1.08)">MOWSA</text>
<text transform="translate(469.5 376.1) scale(1 1.08)">MOBSO</text>
<text transform="translate(499.5 376.1) scale(1 1.08)">NSGA-II</text>
<text transform="translate(529.6 376.1) scale(1 1.08)">MOEA/D</text>
<text font-size="7" transform="translate(471.3 385.1)">(i) 4-5-120</text>
</g>
<text font-size="9" text-anchor="middle" transform="translate(375.7 315.1) rotate(-90)">IGD</text>
</svg>
</body></html>
